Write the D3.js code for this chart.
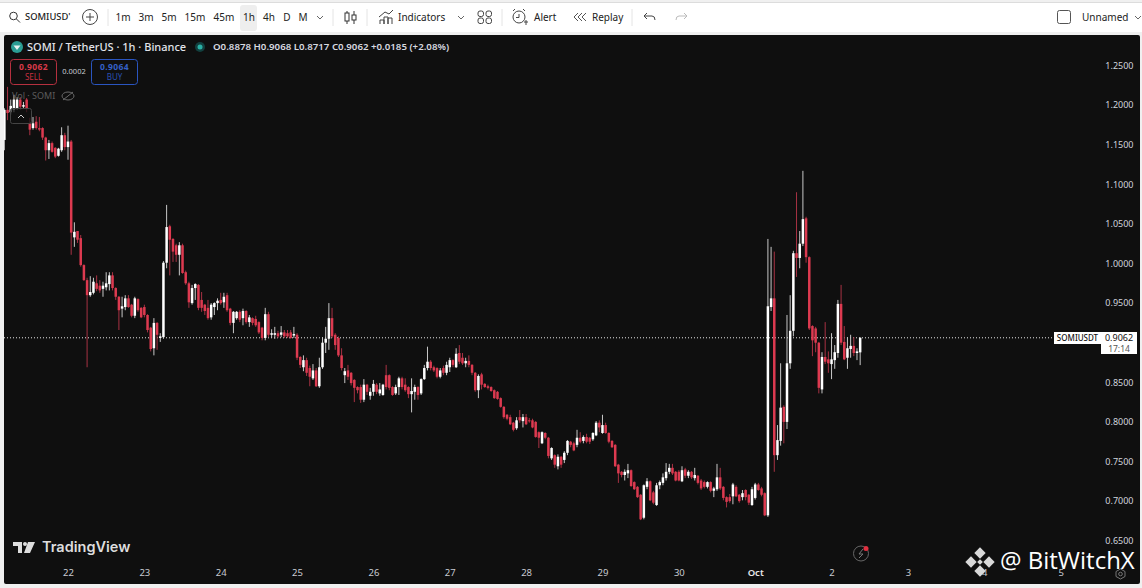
<!DOCTYPE html>
<html>
<head>
<meta charset="utf-8">
<title>SOMI / TetherUS 1h</title>
<script src="https://cdn.jsdelivr.net/npm/d3@7"></script>
<style>
	html, body { margin: 0; padding: 0; background: #f0f0f0; overflow: hidden; }
	svg { display: block; font-family: "Noto Sans", sans-serif; }
</style>
</head>
<body>
<div id="chart"></div>
<script>
// hourly candles, first one is 21 Sep 04:00, one line per day
const opens = [
	1.156,1.194,1.191,1.194,1.196,1.207,1.198,1.207,1.177,1.171,1.179,1.171,1.171,1.159,1.143,1.152,1.146,1.136,1.143,1.162,
	1.147,1.154,1.033,1.041,1.032,.998,.979,.960,.963,.975,.972,.968,.970,.974,.985,.969,.958,.943,.945,.956,.948,.934,.955,.944,
	.945,.935,.919,.893,.925,.906,.907,1.001,1.047,1.031,1.023,1.011,1.023,.989,.975,.950,.969,.973,.954,.948,.944,.932,.945,.950,
	.954,.951,.960,.943,.925,.931,.939,.931,.940,.926,.931,.930,.926,.919,.906,.936,.910,.910,.912,.910,.913,.912,.913,.909,
	.910,.882,.869,.878,.868,.855,.865,.845,.869,.900,.905,.931,.910,.906,.884,.859,.865,.862,.853,.844,.844,.828,.847,.833,
	.838,.847,.836,.834,.859,.859,.844,.836,.844,.855,.847,.844,.835,.838,.844,.836,.854,.868,.876,.869,.868,.857,.868,.862,
	.869,.878,.869,.887,.881,.874,.877,.872,.862,.840,.860,.848,.845,.844,.840,.838,.830,.819,.809,.806,.799,.792,.806,.801,
	.806,.802,.802,.800,.787,.773,.786,.780,.754,.758,.744,.756,.752,.761,.775,.773,.771,.780,.776,.781,.780,.778,.783,.799,
	.786,.796,.786,.776,.771,.746,.737,.733,.735,.739,.724,.718,.708,.679,.718,.725,.711,.695,.720,.723,.729,.737,.742,.737,
	.737,.725,.740,.732,.737,.729,.732,.726,.724,.718,.724,.713,.715,.730,.718,.705,.705,.706,.718,.708,.705,.714,.708,.695,
	.704,.721,.716,.710,.682,.945,.956,.758,.776,.819,.800,.874,.915,1.013,1.007,1.025,1.057,1.008,.921,.918,.900,.841,.882,.879,
	.873,.878,.887,.949,.901,.881,.892,.896,.887,.8878
];
const closes = [
	1.194,1.190,1.199,1.207,1.207,1.198,1.200,1.196,1.169,1.177,1.171,1.169,1.159,1.143,1.152,1.141,1.135,1.145,1.162,1.147,
	1.154,1.039,1.040,1.030,.998,.979,.960,.964,.977,.968,.966,.972,.975,.985,.969,.958,.941,.946,.956,.945,.934,.956,.941,.932,
	.935,.916,.892,.925,.910,.908,1.001,1.046,1.030,1.015,1.011,1.023,.988,.975,.951,.969,.974,.944,.944,.940,.931,.948,.950,.953,
	.950,.958,.941,.925,.939,.939,.929,.940,.926,.932,.925,.922,.913,.906,.936,.910,.912,.912,.908,.913,.908,.908,.906,.911,
	.881,.872,.878,.862,.857,.865,.845,.869,.900,.905,.931,.908,.897,.884,.868,.864,.857,.849,.843,.840,.828,.847,.838,.838,
	.848,.838,.841,.847,.844,.843,.834,.844,.855,.844,.840,.835,.839,.844,.834,.854,.868,.876,.868,.865,.857,.865,.862,.872,
	.878,.872,.886,.876,.874,.877,.872,.862,.840,.858,.847,.844,.843,.839,.830,.829,.819,.806,.804,.797,.790,.802,.802,.806,
	.797,.801,.793,.781,.780,.787,.780,.757,.767,.746,.756,.746,.761,.776,.771,.764,.780,.775,.781,.775,.775,.786,.799,.793,
	.796,.786,.775,.768,.744,.735,.733,.737,.739,.719,.715,.705,.677,.720,.725,.701,.698,.720,.724,.730,.737,.742,.735,.726,
	.726,.739,.732,.737,.730,.733,.723,.716,.718,.724,.713,.716,.730,.716,.704,.699,.700,.721,.706,.700,.710,.705,.698,.715,
	.721,.714,.708,.682,.946,.956,.758,.777,.818,.800,.874,.915,1.013,1.007,1.025,1.056,1.008,.918,.903,.900,.843,.882,.876,.874,
	.879,.888,.949,.900,.879,.893,.896,.887,.889,.9062
];
const highs = [
	1.196,1.223,1.207,1.213,1.210,1.210,1.204,1.209,1.184,1.185,1.186,1.185,1.172,1.160,1.156,1.154,1.147,1.146,1.172,1.165,
	1.174,1.156,1.052,1.041,1.036,.999,.982,.984,.982,.985,.979,.977,.989,.989,.989,.970,.959,.958,.960,.960,.949,.958,.956,.945,
	.948,.936,.920,.931,.926,.912,1.003,1.074,1.049,1.032,1.025,1.027,1.025,.991,.977,.973,.975,.974,.964,.949,.954,.950,.951,.956,
	.963,.963,.963,.944,.940,.940,.941,.943,.941,.935,.932,.934,.927,.920,.944,.939,.917,.920,.915,.921,.916,.916,.916,.920,
	.912,.883,.884,.881,.871,.873,.868,.881,.907,.920,.950,.944,.912,.908,.893,.868,.872,.863,.854,.845,.847,.854,.848,.843,
	.853,.849,.849,.848,.872,.860,.845,.847,.857,.857,.855,.845,.855,.847,.845,.855,.872,.895,.878,.871,.869,.868,.871,.876,
	.881,.879,.893,.897,.887,.881,.884,.873,.863,.860,.862,.849,.847,.845,.841,.839,.831,.820,.810,.809,.800,.806,.815,.810,
	.810,.805,.804,.801,.788,.788,.787,.781,.768,.759,.759,.757,.763,.777,.776,.775,.790,.787,.783,.785,.781,.787,.801,.802,
	.809,.799,.787,.777,.772,.747,.738,.740,.747,.740,.725,.719,.709,.721,.729,.726,.713,.723,.726,.735,.748,.747,.747,.738,
	.739,.744,.742,.739,.738,.742,.733,.728,.726,.725,.725,.718,.747,.742,.719,.706,.709,.723,.720,.709,.714,.715,.709,.718,
	.723,.723,.718,.711,1.031,1.021,1.015,.796,.874,.821,.935,.960,1.016,1.090,1.041,1.117,1.059,1.009,.922,.920,.901,.888,.926,.889,
	.912,.897,.954,.973,.921,.907,.910,.907,.893,.9068
];
const lows = [
	1.143,1.181,1.188,1.191,1.194,1.194,1.195,1.191,1.162,1.169,1.169,1.167,1.156,1.130,1.132,1.140,1.133,1.135,1.141,1.143,
	1.131,1.011,1.021,1.026,.996,.978,.869,.958,.961,.965,.963,.958,.966,.966,.966,.954,.916,.932,.941,.944,.932,.931,.939,.931,
	.932,.913,.889,.884,.891,.901,.905,.994,.985,1.002,1.002,.985,.987,.973,.944,.948,.954,.941,.939,.935,.929,.929,.935,.941,
	.948,.944,.939,.922,.912,.929,.926,.922,.924,.920,.922,.920,.911,.903,.903,.907,.906,.905,.906,.907,.906,.906,.905,.906,
	.878,.868,.864,.858,.845,.853,.844,.843,.867,.887,.891,.906,.891,.882,.865,.849,.853,.846,.825,.836,.824,.825,.834,.828,
	.833,.835,.833,.833,.841,.840,.833,.834,.834,.841,.838,.830,.812,.828,.828,.834,.853,.865,.865,.863,.855,.855,.859,.859,
	.863,.869,.868,.873,.872,.869,.869,.859,.838,.830,.841,.843,.841,.838,.829,.828,.818,.804,.802,.796,.788,.790,.799,.793,
	.796,.799,.792,.780,.767,.772,.778,.754,.752,.742,.740,.742,.748,.758,.768,.763,.768,.773,.773,.773,.772,.776,.782,.787,
	.785,.785,.773,.767,.743,.723,.730,.726,.729,.718,.714,.704,.676,.677,.715,.700,.696,.694,.715,.720,.726,.734,.733,.725,
	.725,.724,.729,.729,.728,.726,.721,.714,.716,.716,.711,.705,.713,.714,.701,.692,.698,.696,.705,.698,.701,.701,.695,.694,
	.702,.713,.706,.681,.680,.940,.737,.752,.770,.773,.791,.867,.908,.983,.994,1.022,1.001,.916,.883,.888,.836,.836,.873,.862,
	.854,.867,.881,.897,.878,.867,.881,.883,.878,.8717
];
const priceTicks = [1.25, 1.2, 1.15, 1.1, 1.05, 1, 0.95, 0.9, 0.85, 0.8, 0.75, 0.7, 0.65];
const dayLabels = ["22", "23", "24", "25", "26", "27", "28", "29", "30", "Oct", "2", "3", "4", "5"];
const firstCandleHour = -20; // hours before 22 Sep 00:00
const lastPrice = 0.9062;

const upColor = "#ffffff";
const downColor = "#dd3a50";

const svg = d3
	.select("#chart")
	.append("svg")
	.attr("width", 1142)
	.attr("height", 588);

// SCALES
const day0 = Date.UTC(2025, 8, 22);
const hourMs = 3600000;
const dayTicks = dayLabels.map((d, i) => new Date(day0 + i * 24 * hourMs));
const x = d3
	.scaleUtc()
	.domain([new Date(day0), dayTicks[dayTicks.length - 1]])
	.range([68, 1060.6]);
const y = d3.scaleLinear().domain([0.65, 1.25]).range([540.7, 65.5]);

// PAGE + TOOLBAR BACKGROUND
svg.append("rect").attr("width", 1142).attr("height", 588).attr("fill", "#f0f0f0");
svg.append("rect").attr("y", 3).attr("width", 1142).attr("height", 29).attr("fill", "#ffffff");
svg.append("rect").attr("x", 0).attr("y", 2).attr("width", 1142).attr("height", 1).attr("fill", "#dcdcdc");
svg.append("rect").attr("x", 4).attr("y", 35).attr("width", 1136).attr("height", 549).attr("rx", 2).attr("fill", "#0f0f0f");

// small helper for all the plain labels
function label(txt, px, py, size, color, opts) {
	opts = opts || {};
	return svg
		.append("text")
		.attr("x", px)
		.attr("y", py)
		.attr("dy", "0.35em")
		.attr("text-anchor", opts.anchor || "start")
		.attr("font-size", size)
		.attr("font-weight", opts.weight || 400)
		.attr("font-family", opts.family || null)
		.attr("fill", color)
		.text(txt);
}
function icon(d, color, width) {
	return svg
		.append("path")
		.attr("d", d)
		.attr("fill", "none")
		.attr("stroke", color)
		.attr("stroke-width", width || 1);
}

// TOOLBAR
const barColor = "#222222";
const barY = 17;
svg.append("rect").attr("x", 240).attr("y", 5).attr("width", 17).attr("height", 26).attr("rx", 3).attr("fill", "#eeeeee");
svg.append("circle").attr("cx", 13.5).attr("cy", 16).attr("r", 3.8).attr("fill", "none").attr("stroke", "#333");
icon("M16.5 19L20 22.5", "#333");
label("SOMIUSD'", 25, barY, 9.4, barColor, { weight: 500 });
svg.append("circle").attr("cx", 90).attr("cy", barY).attr("r", 7.5).attr("fill", "none").attr("stroke", "#444");
icon("M86 17H94M90 13V21", "#444");
const toolbarItems = [["1m", 123], ["3m", 146], ["5m", 169], ["15m", 195], ["45m", 224], ["1h", 249], ["4h", 269], ["D", 287], ["M", 303]];
toolbarItems.forEach((d) => label(d[0], d[1], barY, 10, barColor, { anchor: "middle" }));
[108, 333, 367, 502, 632].forEach((sx) => icon(`M${sx} 9V26`, "#e4e4e4"));
[320, 461, 1138].forEach((cx) => icon(`M${cx - 3} 16l3 3 3-3`, "#666"));
// candle icon
icon("M347 11V24M354 11V24", "#333");
svg.append("rect").attr("x", 345).attr("y", 13).attr("width", 4).attr("height", 8).attr("fill", "#fff").attr("stroke", "#333");
svg.append("rect").attr("x", 352).attr("y", 15).attr("width", 4).attr("height", 5).attr("fill", "#fff").attr("stroke", "#333");
// indicators icon
icon("M380 24V20H384V24M384 24V17H388V24M388 24V18H392V24M379 17L385 12L389 14L393 10", "#444");
label("Indicators", 398, barY, 10, barColor);
// layout grid icon
[[478, 11], [486, 11], [478, 18], [486, 18]].forEach((p) => {
	svg.append("rect").attr("x", p[0]).attr("y", p[1]).attr("width", 5.5).attr("height", 5.5).attr("rx", 2).attr("fill", "none").attr("stroke", "#444");
});
// alert clock icon
svg.append("circle").attr("cx", 519).attr("cy", 17).attr("r", 6).attr("fill", "none").attr("stroke", "#444");
icon("M519 14V17.5H516M513 11L515 9M525 11L523 9M524 22H528M526 20V25", "#444");
label("Alert", 534, barY, 10, barColor);
icon("M578 13L574 17L578 21M582 13L578 17L582 21M586 13L582 17L586 21", "#555");
label("Replay", 592, barY, 10, barColor);
icon("M647 13L644 16L647 19M644 16H652Q655 16 655 20", "#444");
icon("M684 13L687 16L684 19M687 16H679Q676 16 676 20", "#bbbbbb");
svg.append("rect").attr("x", 1057.5).attr("y", 10.5).attr("width", 13).attr("height", 13).attr("rx", 2).attr("fill", "none").attr("stroke", "#555");
label("Unnamed", 1082, barY, 10, barColor);

// CHART LAYER
const plot = svg.append("g");
svg.append("clipPath").attr("id", "plot-clip").append("rect").attr("x", 4).attr("y", 35).attr("width", 1136).attr("height", 549);

// ADD LAST PRICE LINE
plot
	.append("line")
	.attr("x1", 4)
	.attr("x2", 1054)
	.attr("y1", y(lastPrice))
	.attr("y2", y(lastPrice))
	.attr("stroke", "#e6e6e6")
	.attr("stroke-dasharray", "1 2");

// ADD CANDLES
const candles = opens.map((o, i) => ({
	time: new Date(day0 + (firstCandleHour + i) * hourMs),
	open: o,
	close: closes[i],
	high: highs[i],
	low: lows[i],
}));
const bodyWidth = 2.5;
const candleG = plot.append("g").attr("clip-path", "url(#plot-clip)");
candleG
	.selectAll(".wick")
	.data(candles)
	.join("line")
	.attr("class", "wick")
	.attr("x1", (d) => x(d.time))
	.attr("x2", (d) => x(d.time))
	.attr("y1", (d) => y(d.high))
	.attr("y2", (d) => y(d.low))
	.attr("stroke", (d) => (d.close >= d.open ? "#c8c8c8" : "#a83244"))
	.attr("stroke-width", 1);
candleG
	.selectAll(".body")
	.data(candles)
	.join("rect")
	.attr("class", "body")
	.attr("x", (d) => x(d.time) - bodyWidth / 2)
	.attr("width", bodyWidth)
	.attr("y", (d) => y(Math.max(d.open, d.close)))
	.attr("height", (d) => Math.max(1, Math.abs(y(d.open) - y(d.close))))
	.attr("fill", (d) => (d.close >= d.open ? upColor : downColor));

// ADD Y-AXIS
const yAxis = plot
	.append("g")
	.attr("transform", "translate(1133.5,0)")
	.call(d3.axisLeft(y).tickValues(priceTicks).tickFormat(d3.format(".4f")).tickSize(0));
yAxis.select(".domain").remove();
yAxis.selectAll("text").attr("fill", "#d1d4dc").attr("font-size", 9).attr("font-family", "Noto Sans").attr("x", 0);

// ADD X-AXIS
const xAxis = plot
	.append("g")
	.attr("transform", "translate(0,573)")
	.call(d3.axisBottom(x).tickValues(dayTicks).tickFormat((d, i) => dayLabels[i]).tickSize(0));
xAxis.select(".domain").remove();
xAxis
	.selectAll("text")
	.attr("y", 0)
	.attr("dy", "0.35em")
	.attr("fill", (d, i) => (i === 9 ? "#e8e8e8" : "#c8cbd2"))
	.attr("font-weight", (d, i) => (i === 9 ? 600 : 400))
	.attr("font-size", 9.5)
	.attr("font-family", "Noto Sans");

// HEADER OF CHART
svg.append("circle").attr("cx", 17).attr("cy", 47).attr("r", 6).attr("fill", "#2a9d94");
svg.append("path").attr("d", "M13.5 45.5H20.5L17 50Z").attr("fill", "#e8f4f2");
label("SOMI / TetherUS · 1h · Binance", 27, 47, 11, "#e2e4ea", { weight: 500 });
svg.append("circle").attr("cx", 200).attr("cy", 47).attr("r", 5).attr("fill", "#12403f");
svg.append("circle").attr("cx", 200).attr("cy", 47).attr("r", 2.5).attr("fill", "#2ab0a5");
label("O0.8878 H0.9068 L0.8717 C0.9062 +0.0185 (+2.08%)", 213, 47, 9.7, "#d8dae0", { weight: 600 });

// SELL + BUY BOXES
svg.append("rect").attr("x", 10.5).attr("y", 59.5).attr("width", 46).attr("height", 25).attr("rx", 3).attr("fill", "none").attr("stroke", "#b5303f");
label("0.9062", 33.5, 67, 8.5, "#d83a4a", { anchor: "middle", weight: 700 }).attr("letter-spacing", 0.4);
label("SELL", 33.5, 77.5, 8, "#c8303f", { anchor: "middle" });
label("0.0002", 74, 71, 7.5, "#c8cbd2", { anchor: "middle" });
svg.append("rect").attr("x", 91.5).attr("y", 59.5).attr("width", 46).attr("height", 25).attr("rx", 3).attr("fill", "none").attr("stroke", "#2a55c0");
label("0.9064", 114.5, 67, 8.5, "#3460c8", { anchor: "middle", weight: 700 }).attr("letter-spacing", 0.4);
label("BUY", 114.5, 77.5, 8, "#2a50b0", { anchor: "middle" });

// VOLUME LEGEND
label("Vol · SOMI", 12, 96, 9, "#5c5c5c");
svg.append("ellipse").attr("cx", 68).attr("cy", 96).attr("rx", 6).attr("ry", 4).attr("fill", "none").attr("stroke", "#6a6a6a");
icon("M63 100L73 92", "#6a6a6a");
svg.append("rect").attr("x", 10.5).attr("y", 108.5).attr("width", 21).attr("height", 15).attr("rx", 2).attr("fill", "#0f0f0f").attr("fill-opacity", 0.7).attr("stroke", "#444");
icon("M18 118l3-3 3 3", "#cccccc");

// LAST PRICE LABELS
svg.append("rect").attr("x", 1054).attr("y", 332).attr("width", 47).attr("height", 12).attr("fill", "#ffffff");
label("SOMIUSDT", 1077.5, 338, 8, "#111111", { anchor: "middle", weight: 500 });
svg.append("rect").attr("x", 1101).attr("y", 332).attr("width", 36).attr("height", 22).attr("fill", "#ffffff");
label("0.9062", 1119, 337.5, 9, "#111111", { anchor: "middle" });
label("17:14", 1119, 349.5, 8.5, "#555555", { anchor: "middle" });

// TRADINGVIEW LOGO
svg.append("path").attr("d", "M13 542H22V553H18V546H13ZM28 542H35L30 553H24Z").attr("fill", "#dddddd");
svg.append("circle").attr("cx", 25).attr("cy", 544).attr("r", 2).attr("fill", "#dddddd");
label("TradingView", 42, 547, 14.5, "#dddddd", { weight: 600, family: "Inter" });

// LIGHTNING + SETTINGS ICONS
svg.append("circle").attr("cx", 861).attr("cy", 553.5).attr("r", 7.5).attr("fill", "none").attr("stroke", "#666");
icon("M863 549L859 554H863L859 558", "#777");
svg.append("circle").attr("cx", 866).attr("cy", 548.5).attr("r", 2.5).attr("fill", "#e03040");
svg.append("path").attr("d", "M1120.5 569L1125 571.5V576.5L1120.5 579L1116 576.5V571.5Z").attr("fill", "none").attr("stroke", "#777");
svg.append("circle").attr("cx", 1120.5).attr("cy", 574).attr("r", 1.8).attr("fill", "none").attr("stroke", "#777");

// WATERMARK
const wm = svg.append("g").attr("fill", "#d9d9d9").attr("transform", "translate(980,562)");
[[0, -9], [-9, 0], [9, 0], [0, 9]].forEach((p) => {
	wm.append("rect").attr("x", p[0] - 4).attr("y", p[1] - 4).attr("width", 8).attr("height", 8).attr("transform", `rotate(45 ${p[0]} ${p[1]})`);
});
wm.append("rect").attr("x", -2).attr("y", -2).attr("width", 4).attr("height", 4).attr("transform", "rotate(45)");
label("@ BitWitchX", 1000, 561, 24, "#ffffff", { family: "Open Sans" });
</script>
</body>
</html>
